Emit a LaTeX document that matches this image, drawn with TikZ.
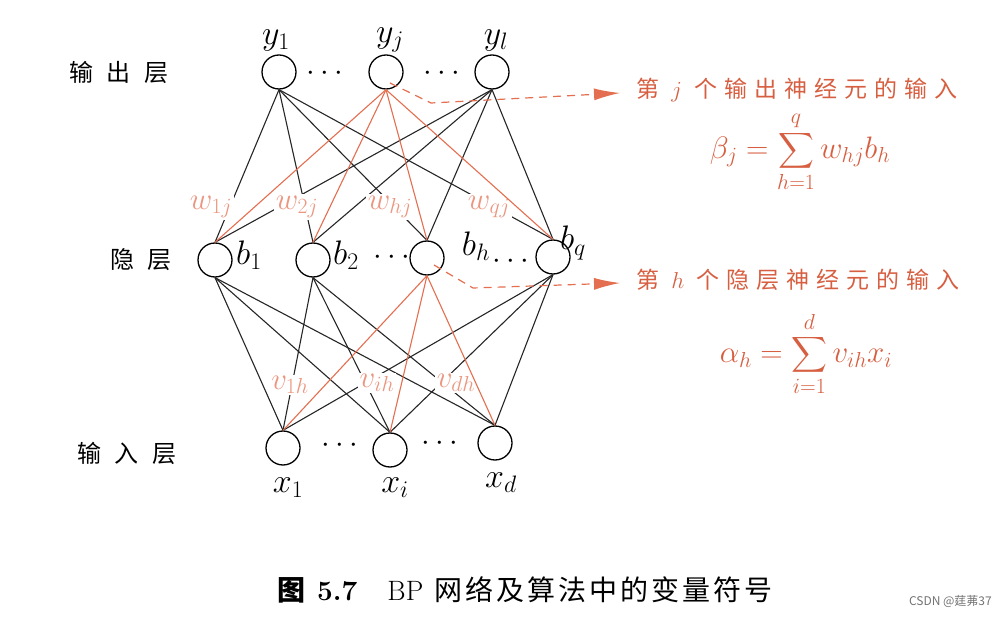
\RequirePackage{fix-cm}
\documentclass[tikz,border=0pt]{standalone}
\usepackage{exscale}
\usepackage{fontspec}
\newfontfamily\cjk{Noto Sans CJK SC}
\usetikzlibrary{arrows.meta}
\definecolor{orl}{RGB}{228,110,80}
\definecolor{orw}{RGB}{236,150,128}
\definecolor{ort}{RGB}{215,95,65}
\newcommand\cg{\hspace{14pt}}
\newcommand\tg{\hspace{7pt}}
\newcommand\cs{\hspace{3pt}}
\begin{document}
\begin{tikzpicture}[x=1pt,y=-1pt,
  neuron/.style={circle,draw=black,line width=1.3pt,minimum size=34pt,inner sep=0pt,fill=white},
  conn/.style={line width=1.1pt,black!85},
  oconn/.style={line width=1.1pt,orl},
  wlab/.style={fill=white,inner sep=1.5pt,text=orw,font=\fontsize{31}{34}\selectfont},
  mlab/.style={inner sep=0pt,font=\fontsize{34}{38}\selectfont},
  dotlab/.style={inner sep=0pt,font=\fontsize{31}{34}\selectfont},
  layerlab/.style={inner sep=0pt,font=\cjk\fontsize{24}{28}\selectfont},
  annot/.style={inner sep=0pt,anchor=west,text=ort,font=\cjk\fontsize{23}{27}\selectfont},
  formula/.style={inner sep=0pt,text=ort,font=\fontsize{31}{35}\selectfont},
  darrow/.style={orl,line width=1.2pt,dash pattern=on 8pt off 6pt,-{Latex[length=26pt,width=12pt]}},
]
\useasboundingbox (0,0) rectangle (1006,617);
% neurons
\node[neuron] (y1) at (279,72) {};
\node[neuron] (yj) at (386,72) {};
\node[neuron] (yl) at (492,72) {};
\node[neuron] (b1) at (215,260) {};
\node[neuron] (b2) at (313,260) {};
\node[neuron] (bh) at (427,258) {};
\node[neuron] (bq) at (553,257) {};
\node[neuron] (x1) at (283,448) {};
\node[neuron] (xi) at (390,450) {};
\node[neuron] (xd) at (495,443) {};
% black connections
\foreach \u in {y1,yl}{\foreach \v in {b1,b2,bh,bq}{\draw[conn] (\u.south) -- (\v.north);}}
\foreach \u in {b1,b2,bq}{\foreach \v in {x1,xi,xd}{\draw[conn] (\u.south) -- (\v.north);}}
% weight labels
\node[wlab] (w1) at (211,207) {$w_{1j}$};
\node[wlab] (w2) at (297,207) {$w_{2j}$};
\node[wlab] (wh) at (390,207) {$w_{hj}$};
\node[wlab] (wq) at (489,207) {$w_{qj}$};
\node[wlab] (v1) at (290,385) {$v_{1h}$};
\node[wlab] (vi) at (377,383) {$v_{ih}$};
\node[wlab] (vd) at (456,383) {$v_{dh}$};
% orange connections
\foreach \v in {b1,b2,bh,bq}{\draw[oconn] (yj.south) -- (\v.north);}
\foreach \v in {x1,xi,xd}{\draw[oconn] (bh.south) -- (\v.north);}
% neuron labels
\node[mlab] (ly1) at (276,40) {$y_1$};
\node[mlab] (lyj) at (390,40) {$y_j$};
\node[mlab] (lyl) at (496,40) {$y_l$};
\node[mlab] (lb1) at (249,255) {$b_1$};
\node[mlab] (lb2) at (346,255) {$b_2$};
\node[mlab] (lbh) at (476,246) {$b_h$};
\node[mlab] (lbq) at (573,243) {$b_q$};
\node[mlab] (lx1) at (288,488) {$x_1$};
\node[mlab] (lxi) at (395,488) {$x_i$};
\node[mlab] (lxd) at (501,483) {$x_d$};
% dots
\node[dotlab] (d1) at (325,74) {$\cdots$};
\node[dotlab] (d2) at (442,74) {$\cdots$};
\node[dotlab] (d3) at (392,258) {$\cdots$};
\node[dotlab] (d4) at (511,262) {$\cdots$};
\node[dotlab] (d5) at (340,446) {$\cdots$};
\node[dotlab] (d6) at (440,444) {$\cdots$};
% layer labels
\node[layerlab] (lo) at (119,72) {输\cg 出\cg 层};
\node[layerlab] (lh) at (141,260) {隐\cg 层};
\node[layerlab] (li) at (127,453) {输\cg 入\cg 层};
% dashed arrows
\coordinate (a1s) at (390,83);
\coordinate (a1m) at (431,103);
\coordinate (a1e) at (620,93);
\coordinate (a2s) at (434,265);
\coordinate (a2m) at (473,288);
\coordinate (a2e) at (620,283);
\draw[darrow] (a1s) -- (a1m) -- (a1e);
\draw[darrow] (a2s) -- (a2m) -- (a2e);
% annotations
\node[annot] (t1) at (636,90) {第\tg\ $j$\ \tg 个\tg 输\tg 出\tg 神\tg 经\tg 元\tg 的\tg 输\tg 入};
\node[annot] (t2) at (636,280) {第\tg\ $h$\ \tg 个\tg 隐\tg 层\tg 神\tg 经\tg 元\tg 的\tg 输\tg 入};
\node[formula] (f1) at (800,152) {$\displaystyle \beta_j=\sum_{h=1}^{q} w_{hj}b_h$};
\node[formula] (f2) at (806,354) {$\displaystyle \alpha_h=\sum_{i=1}^{d} v_{ih}x_i$};
% caption
\node[inner sep=0pt,anchor=west,font=\fontsize{28}{32}\selectfont] (cap) at (277,590)
  {{\cjk\bfseries 图}\hspace{12pt}\textbf{5.7}\hspace{30pt}BP\hspace{11pt}{\cjk 网\cs 络\cs 及\cs 算\cs 法\cs 中\cs 的\cs 变\cs 量\cs 符\cs 号}};
\node[inner sep=0pt,anchor=east,text=black!55,font=\cjk\fontsize{12}{14}\selectfont] (wm) at (992,601) {CSDN @莛茀37};
\end{tikzpicture}
\end{document}
